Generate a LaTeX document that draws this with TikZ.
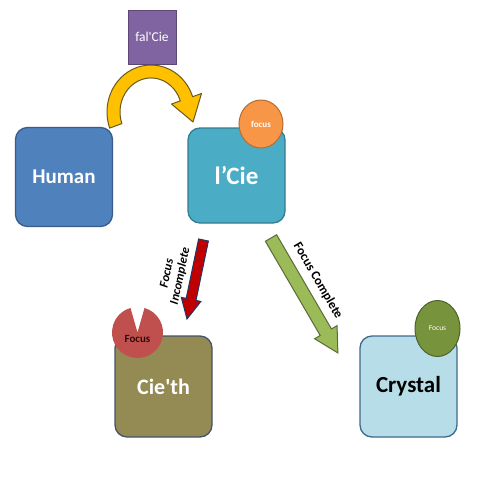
\documentclass[tikz,border=0pt]{standalone}
\usepackage{fontspec}
\setmainfont{Carlito}
\definecolor{humanfill}{HTML}{4F81BD}
\definecolor{humanline}{HTML}{385D8A}
\definecolor{lciefill}{HTML}{4BACC6}
\definecolor{lcieline}{HTML}{357D91}
\definecolor{orangefill}{HTML}{F79646}
\definecolor{orangeline}{HTML}{B66D31}
\definecolor{purplefill}{HTML}{8064A2}
\definecolor{purpleline}{HTML}{5C4776}
\definecolor{yellowfill}{HTML}{FFC000}
\definecolor{yellowline}{HTML}{6B5A1E}
\definecolor{olivefill}{HTML}{948A54}
\definecolor{oliveline}{HTML}{44546A}
\definecolor{blobred}{HTML}{C0504D}
\definecolor{crystalfill}{HTML}{B7DEE8}
\definecolor{crystalline}{HTML}{3E6A8C}
\definecolor{greenfill}{HTML}{77933C}
\definecolor{greenline}{HTML}{4F6228}
\definecolor{redarrow}{HTML}{C00000}
\definecolor{redarrowline}{HTML}{1F3864}
\definecolor{garrow}{HTML}{9BBB59}
\definecolor{garrowline}{HTML}{5A6B3A}
\tikzset{
  stagebox/.style={draw, line width=1.3pt, rounded corners=12pt, minimum width=97pt, minimum height=99pt, inner sep=0pt, font=\bfseries\fontsize{21}{21}\selectfont},
  focusdot/.style={draw, line width=1pt, ellipse, inner sep=0pt},
  lbl/.style={font=\bfseries\fontsize{13}{14}\selectfont, align=center, inner sep=0pt}
}
\usetikzlibrary{shapes.geometric}
\begin{document}
\begin{tikzpicture}[x=1pt,y=-1pt]
\useasboundingbox[fill=white] (0,0) rectangle (480,480);

% curved yellow arrow
\draw[fill=yellowfill, draw=yellowline, line width=1pt, line join=round]
  (151,112) ++(160:44 and 47) arc[start angle=160, end angle=341, x radius=44, y radius=47]
  -- (201.5,93.5) -- (193,122) -- (171.5,104)
  -- (180.3,100.9) arc[start angle=341, end angle=160, x radius=31, y radius=34] -- cycle;

% fal'Cie
\node[draw=purpleline, fill=purplefill, line width=1pt, minimum width=48pt, minimum height=54pt, inner sep=0pt,
  text=white, font=\fontsize{13.5}{14}\selectfont] (falcie) at (152,37) {fal\textquotesingle Cie};

% boxes
\node[stagebox, fill=humanfill, draw=humanline, text=white] (human) at (64,177) {Human};
\node[stagebox, fill=lciefill, draw=lcieline, text=white, minimum height=95pt, font=\bfseries\fontsize{25}{25}\selectfont] (lcie) at (236.5,175.5) {l’Cie};
\node[stagebox, fill=olivefill, draw=oliveline, text=white, minimum height=101pt, font=\bfseries\fontsize{22}{22}\selectfont] (cieth) at (163.5,386.5) {Cie\textquotesingle th};
\node[stagebox, fill=crystalfill, draw=crystalline, text=black, minimum height=101pt, font=\bfseries\fontsize{23}{23}\selectfont] (crystal) at (408.5,386.5) {Crystal};

% focus marks
\node[focusdot, fill=orangefill, draw=orangeline, minimum width=44pt, minimum height=48pt, text=white,
  font=\bfseries\fontsize{9}{9}\selectfont] (focusA) at (261,124) {focus};
\node[focusdot, fill=greenfill, draw=greenline, minimum width=45pt, minimum height=56pt, text=white,
  font=\fontsize{7.5}{8}\selectfont] (focusC) at (437.5,328.5) {Focus};
\fill[blobred] (137.5,332.5) -- ++(-74:25.5) arc[start angle=-74, end angle=254, radius=25.5] -- cycle;
\node[font=\bfseries\fontsize{11}{11}\selectfont, text={rgb,255:red,50;green,10;blue,10}, inner sep=0pt] (focusB) at (137.5,339) {Focus};

% block arrows
\coordinate (redstart) at (203.5,240);
\coordinate (greenstart) at (271,238);
\begin{scope}[shift={(redstart)}, rotate=-101.8]
  \draw[fill=redarrow, draw=redarrowline, line width=1pt, line join=miter]
    (0,-5) -- (60.7,-5) -- (60.7,-10) -- (80.7,0) -- (60.7,10) -- (60.7,5) -- (0,5) -- cycle;
\end{scope}
\begin{scope}[shift={(greenstart)}, rotate=-59.8]
  \draw[fill=garrow, draw=garrowline, line width=1pt, line join=miter]
    (0,-6.5) -- (109,-6.5) -- (109,-13) -- (133,0) -- (109,13) -- (109,6.5) -- (0,6.5) -- cycle;
\end{scope}

% arrow labels
\node[lbl, font=\bfseries\itshape\fontsize{12.5}{13.5}\selectfont, rotate=78.2] (inclbl) at (174,275) {Focus\\Incomplete};
\node[lbl, rotate=-59.8] (complbl) at (318,281) {Focus Complete};
\end{tikzpicture}
\end{document}
